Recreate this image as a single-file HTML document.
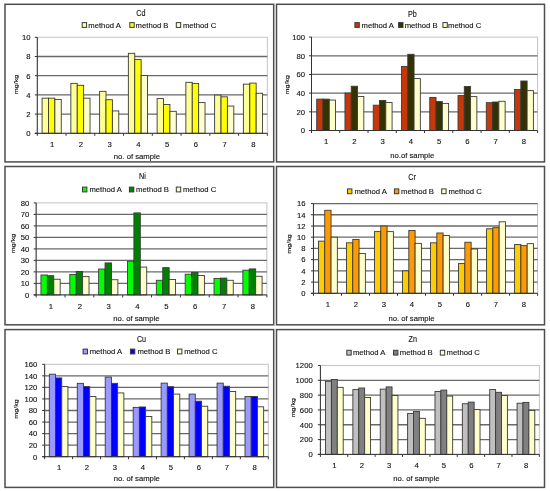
<!DOCTYPE html>
<html><head><meta charset="utf-8"><title>Heavy metals charts</title>
<style>
html,body{margin:0;padding:0;background:#fff;}
svg{display:block;}
text{font-family:"Liberation Sans",Arial,sans-serif;font-size:7.7px;fill:#111;stroke:#111;stroke-width:0.12px;}
</style></head><body>
<svg width="550" height="491" viewBox="0 0 550 491">
<rect x="0" y="0" width="550" height="491" fill="#fff"/>
<rect x="5" y="4.3" width="268.7" height="157.6" fill="#fff" stroke="#4e4e4e" stroke-width="1.5"/>
<rect x="276.5" y="4.3" width="268" height="157.6" fill="#fff" stroke="#4e4e4e" stroke-width="1.5"/>
<rect x="5" y="166.5" width="268.7" height="158.3" fill="#fff" stroke="#4e4e4e" stroke-width="1.5"/>
<rect x="276.5" y="166.5" width="268" height="158.3" fill="#fff" stroke="#4e4e4e" stroke-width="1.5"/>
<rect x="5" y="329.6" width="268.7" height="157.8" fill="#fff" stroke="#4e4e4e" stroke-width="1.5"/>
<rect x="276.5" y="329.6" width="268" height="157.8" fill="#fff" stroke="#4e4e4e" stroke-width="1.5"/>
<g>
<rect x="37.3" y="37.3" width="230.05" height="96" fill="none" stroke="#c4c4c4" stroke-width="1"/>
<line x1="37.3" y1="114.1" x2="267.35" y2="114.1" stroke="#686868" stroke-width="1.3"/>
<line x1="37.3" y1="94.9" x2="267.35" y2="94.9" stroke="#686868" stroke-width="1.3"/>
<line x1="37.3" y1="75.7" x2="267.35" y2="75.7" stroke="#686868" stroke-width="1.3"/>
<line x1="37.3" y1="56.5" x2="267.35" y2="56.5" stroke="#686868" stroke-width="1.3"/>
<rect x="42.09" y="98.16" width="6.39" height="35.14" fill="#FFFF99" stroke="#3a3a3a" stroke-width="0.9"/>
<rect x="48.48" y="98.16" width="6.39" height="35.14" fill="#FFFF00" stroke="#3a3a3a" stroke-width="0.9"/>
<rect x="54.87" y="99.51" width="6.39" height="33.79" fill="#FFFFCC" stroke="#3a3a3a" stroke-width="0.9"/>
<rect x="70.85" y="83.38" width="6.39" height="49.92" fill="#FFFF99" stroke="#3a3a3a" stroke-width="0.9"/>
<rect x="77.24" y="85.3" width="6.39" height="48" fill="#FFFF00" stroke="#3a3a3a" stroke-width="0.9"/>
<rect x="83.63" y="98.16" width="6.39" height="35.14" fill="#FFFFCC" stroke="#3a3a3a" stroke-width="0.9"/>
<rect x="99.61" y="91.35" width="6.39" height="41.95" fill="#FFFF99" stroke="#3a3a3a" stroke-width="0.9"/>
<rect x="106" y="99.7" width="6.39" height="33.6" fill="#FFFF00" stroke="#3a3a3a" stroke-width="0.9"/>
<rect x="112.39" y="110.93" width="6.39" height="22.37" fill="#FFFFCC" stroke="#3a3a3a" stroke-width="0.9"/>
<rect x="128.36" y="53.33" width="6.39" height="79.97" fill="#FFFF99" stroke="#3a3a3a" stroke-width="0.9"/>
<rect x="134.75" y="59.57" width="6.39" height="73.73" fill="#FFFF00" stroke="#3a3a3a" stroke-width="0.9"/>
<rect x="141.14" y="75.51" width="6.39" height="57.79" fill="#FFFFCC" stroke="#3a3a3a" stroke-width="0.9"/>
<rect x="157.12" y="98.55" width="6.39" height="34.75" fill="#FFFF99" stroke="#3a3a3a" stroke-width="0.9"/>
<rect x="163.51" y="104.5" width="6.39" height="28.8" fill="#FFFF00" stroke="#3a3a3a" stroke-width="0.9"/>
<rect x="169.9" y="111.32" width="6.39" height="21.98" fill="#FFFFCC" stroke="#3a3a3a" stroke-width="0.9"/>
<rect x="185.87" y="82.32" width="6.39" height="50.98" fill="#FFFF99" stroke="#3a3a3a" stroke-width="0.9"/>
<rect x="192.26" y="83.38" width="6.39" height="49.92" fill="#FFFF00" stroke="#3a3a3a" stroke-width="0.9"/>
<rect x="198.65" y="102.58" width="6.39" height="30.72" fill="#FFFFCC" stroke="#3a3a3a" stroke-width="0.9"/>
<rect x="214.63" y="95.09" width="6.39" height="38.21" fill="#FFFF99" stroke="#3a3a3a" stroke-width="0.9"/>
<rect x="221.02" y="96.82" width="6.39" height="36.48" fill="#FFFF00" stroke="#3a3a3a" stroke-width="0.9"/>
<rect x="227.41" y="106.04" width="6.39" height="27.26" fill="#FFFFCC" stroke="#3a3a3a" stroke-width="0.9"/>
<rect x="243.39" y="84.15" width="6.39" height="49.15" fill="#FFFF99" stroke="#3a3a3a" stroke-width="0.9"/>
<rect x="249.78" y="83.09" width="6.39" height="50.21" fill="#FFFF00" stroke="#3a3a3a" stroke-width="0.9"/>
<rect x="256.17" y="93.27" width="6.39" height="40.03" fill="#FFFFCC" stroke="#3a3a3a" stroke-width="0.9"/>
<line x1="37.3" y1="37.3" x2="37.3" y2="133.8" stroke="#333" stroke-width="1"/>
<line x1="34.8" y1="133.3" x2="267.35" y2="133.3" stroke="#333" stroke-width="1"/>
<line x1="34.8" y1="133.3" x2="37.3" y2="133.3" stroke="#333" stroke-width="1"/>
<text x="30.5" y="133.6" text-anchor="end" dominant-baseline="central">0</text>
<line x1="34.8" y1="114.1" x2="37.3" y2="114.1" stroke="#333" stroke-width="1"/>
<text x="30.5" y="114.4" text-anchor="end" dominant-baseline="central">2</text>
<line x1="34.8" y1="94.9" x2="37.3" y2="94.9" stroke="#333" stroke-width="1"/>
<text x="30.5" y="95.2" text-anchor="end" dominant-baseline="central">4</text>
<line x1="34.8" y1="75.7" x2="37.3" y2="75.7" stroke="#333" stroke-width="1"/>
<text x="30.5" y="76" text-anchor="end" dominant-baseline="central">6</text>
<line x1="34.8" y1="56.5" x2="37.3" y2="56.5" stroke="#333" stroke-width="1"/>
<text x="30.5" y="56.8" text-anchor="end" dominant-baseline="central">8</text>
<line x1="34.8" y1="37.3" x2="37.3" y2="37.3" stroke="#333" stroke-width="1"/>
<text x="30.5" y="37.6" text-anchor="end" dominant-baseline="central">10</text>
<line x1="37.3" y1="133.3" x2="37.3" y2="135.8" stroke="#333" stroke-width="1"/>
<line x1="66.06" y1="133.3" x2="66.06" y2="135.8" stroke="#333" stroke-width="1"/>
<line x1="94.81" y1="133.3" x2="94.81" y2="135.8" stroke="#333" stroke-width="1"/>
<line x1="123.57" y1="133.3" x2="123.57" y2="135.8" stroke="#333" stroke-width="1"/>
<line x1="152.32" y1="133.3" x2="152.32" y2="135.8" stroke="#333" stroke-width="1"/>
<line x1="181.08" y1="133.3" x2="181.08" y2="135.8" stroke="#333" stroke-width="1"/>
<line x1="209.84" y1="133.3" x2="209.84" y2="135.8" stroke="#333" stroke-width="1"/>
<line x1="238.59" y1="133.3" x2="238.59" y2="135.8" stroke="#333" stroke-width="1"/>
<line x1="267.35" y1="133.3" x2="267.35" y2="135.8" stroke="#333" stroke-width="1"/>
<text x="52.08" y="144" text-anchor="middle" dominant-baseline="central">1</text>
<text x="80.83" y="144" text-anchor="middle" dominant-baseline="central">2</text>
<text x="109.59" y="144" text-anchor="middle" dominant-baseline="central">3</text>
<text x="138.35" y="144" text-anchor="middle" dominant-baseline="central">4</text>
<text x="167.1" y="144" text-anchor="middle" dominant-baseline="central">5</text>
<text x="195.86" y="144" text-anchor="middle" dominant-baseline="central">6</text>
<text x="224.62" y="144" text-anchor="middle" dominant-baseline="central">7</text>
<text x="253.37" y="144" text-anchor="middle" dominant-baseline="central">8</text>
<text x="0" y="0" text-anchor="middle" dominant-baseline="central" style="font-size:8.2px" transform="translate(140.8 13.45) scale(0.88 1)">Cd</text>
<rect x="82.2" y="22.6" width="4.4" height="4.8" fill="#FFFF99" stroke="#3a3a3a" stroke-width="1"/>
<text x="88.3" y="25" dominant-baseline="central">method A</text>
<rect x="129.8" y="22.6" width="4.4" height="4.8" fill="#FFFF00" stroke="#3a3a3a" stroke-width="1"/>
<text x="135.6" y="25" dominant-baseline="central">method B</text>
<rect x="176.3" y="22.6" width="4.4" height="4.8" fill="#FFFFCC" stroke="#3a3a3a" stroke-width="1"/>
<text x="182.9" y="25" dominant-baseline="central">method C</text>
<text x="136.9" y="156.4" text-anchor="middle" dominant-baseline="central">no. of sample</text>
<text x="0" y="0" text-anchor="middle" dominant-baseline="central" style="font-size:7.1px;fill:#111;stroke-width:0.15px" transform="translate(15.7 84.5) rotate(-90) scale(1 0.85)">mg/kg</text>
</g>
<g>
<rect x="311.5" y="37.1" width="226.1" height="93.4" fill="none" stroke="#c4c4c4" stroke-width="1"/>
<line x1="311.5" y1="111.82" x2="537.6" y2="111.82" stroke="#686868" stroke-width="1.3"/>
<line x1="311.5" y1="93.14" x2="537.6" y2="93.14" stroke="#686868" stroke-width="1.3"/>
<line x1="311.5" y1="74.46" x2="537.6" y2="74.46" stroke="#686868" stroke-width="1.3"/>
<line x1="311.5" y1="55.78" x2="537.6" y2="55.78" stroke="#686868" stroke-width="1.3"/>
<rect x="316.71" y="99.12" width="6.28" height="31.38" fill="#C6380A" stroke="#3a3a3a" stroke-width="0.9"/>
<rect x="322.99" y="99.12" width="6.28" height="31.38" fill="#333300" stroke="#3a3a3a" stroke-width="0.9"/>
<rect x="329.27" y="100.05" width="6.28" height="30.45" fill="#FFFFCC" stroke="#3a3a3a" stroke-width="0.9"/>
<rect x="344.97" y="93.05" width="6.28" height="37.45" fill="#C6380A" stroke="#3a3a3a" stroke-width="0.9"/>
<rect x="351.25" y="86.23" width="6.28" height="44.27" fill="#333300" stroke="#3a3a3a" stroke-width="0.9"/>
<rect x="357.53" y="96.5" width="6.28" height="34" fill="#FFFFCC" stroke="#3a3a3a" stroke-width="0.9"/>
<rect x="373.24" y="105.19" width="6.28" height="25.31" fill="#C6380A" stroke="#3a3a3a" stroke-width="0.9"/>
<rect x="379.52" y="100.43" width="6.28" height="30.07" fill="#333300" stroke="#3a3a3a" stroke-width="0.9"/>
<rect x="385.8" y="102.48" width="6.28" height="28.02" fill="#FFFFCC" stroke="#3a3a3a" stroke-width="0.9"/>
<rect x="401.5" y="66.43" width="6.28" height="64.07" fill="#C6380A" stroke="#3a3a3a" stroke-width="0.9"/>
<rect x="407.78" y="54.29" width="6.28" height="76.21" fill="#333300" stroke="#3a3a3a" stroke-width="0.9"/>
<rect x="414.06" y="78.57" width="6.28" height="51.93" fill="#FFFFCC" stroke="#3a3a3a" stroke-width="0.9"/>
<rect x="429.76" y="97.44" width="6.28" height="33.06" fill="#C6380A" stroke="#3a3a3a" stroke-width="0.9"/>
<rect x="436.04" y="101.55" width="6.28" height="28.95" fill="#333300" stroke="#3a3a3a" stroke-width="0.9"/>
<rect x="442.32" y="103.41" width="6.28" height="27.09" fill="#FFFFCC" stroke="#3a3a3a" stroke-width="0.9"/>
<rect x="458.02" y="95.57" width="6.28" height="34.93" fill="#C6380A" stroke="#3a3a3a" stroke-width="0.9"/>
<rect x="464.3" y="86.51" width="6.28" height="43.99" fill="#333300" stroke="#3a3a3a" stroke-width="0.9"/>
<rect x="470.58" y="96.6" width="6.28" height="33.9" fill="#FFFFCC" stroke="#3a3a3a" stroke-width="0.9"/>
<rect x="486.29" y="102.67" width="6.28" height="27.83" fill="#C6380A" stroke="#3a3a3a" stroke-width="0.9"/>
<rect x="492.57" y="102.01" width="6.28" height="28.49" fill="#333300" stroke="#3a3a3a" stroke-width="0.9"/>
<rect x="498.85" y="101.27" width="6.28" height="29.23" fill="#FFFFCC" stroke="#3a3a3a" stroke-width="0.9"/>
<rect x="514.55" y="89.5" width="6.28" height="41" fill="#C6380A" stroke="#3a3a3a" stroke-width="0.9"/>
<rect x="520.83" y="81" width="6.28" height="49.5" fill="#333300" stroke="#3a3a3a" stroke-width="0.9"/>
<rect x="527.11" y="90.62" width="6.28" height="39.88" fill="#FFFFCC" stroke="#3a3a3a" stroke-width="0.9"/>
<line x1="311.5" y1="37.1" x2="311.5" y2="131" stroke="#333" stroke-width="1"/>
<line x1="309" y1="130.5" x2="537.6" y2="130.5" stroke="#333" stroke-width="1"/>
<line x1="309" y1="130.5" x2="311.5" y2="130.5" stroke="#333" stroke-width="1"/>
<text x="305" y="130.8" text-anchor="end" dominant-baseline="central">0</text>
<line x1="309" y1="111.82" x2="311.5" y2="111.82" stroke="#333" stroke-width="1"/>
<text x="305" y="112.12" text-anchor="end" dominant-baseline="central">20</text>
<line x1="309" y1="93.14" x2="311.5" y2="93.14" stroke="#333" stroke-width="1"/>
<text x="305" y="93.44" text-anchor="end" dominant-baseline="central">40</text>
<line x1="309" y1="74.46" x2="311.5" y2="74.46" stroke="#333" stroke-width="1"/>
<text x="305" y="74.76" text-anchor="end" dominant-baseline="central">60</text>
<line x1="309" y1="55.78" x2="311.5" y2="55.78" stroke="#333" stroke-width="1"/>
<text x="305" y="56.08" text-anchor="end" dominant-baseline="central">80</text>
<line x1="309" y1="37.1" x2="311.5" y2="37.1" stroke="#333" stroke-width="1"/>
<text x="305" y="37.4" text-anchor="end" dominant-baseline="central">100</text>
<line x1="311.5" y1="130.5" x2="311.5" y2="133" stroke="#333" stroke-width="1"/>
<line x1="339.76" y1="130.5" x2="339.76" y2="133" stroke="#333" stroke-width="1"/>
<line x1="368.02" y1="130.5" x2="368.02" y2="133" stroke="#333" stroke-width="1"/>
<line x1="396.29" y1="130.5" x2="396.29" y2="133" stroke="#333" stroke-width="1"/>
<line x1="424.55" y1="130.5" x2="424.55" y2="133" stroke="#333" stroke-width="1"/>
<line x1="452.81" y1="130.5" x2="452.81" y2="133" stroke="#333" stroke-width="1"/>
<line x1="481.08" y1="130.5" x2="481.08" y2="133" stroke="#333" stroke-width="1"/>
<line x1="509.34" y1="130.5" x2="509.34" y2="133" stroke="#333" stroke-width="1"/>
<line x1="537.6" y1="130.5" x2="537.6" y2="133" stroke="#333" stroke-width="1"/>
<text x="326.03" y="141.4" text-anchor="middle" dominant-baseline="central">1</text>
<text x="354.29" y="141.4" text-anchor="middle" dominant-baseline="central">2</text>
<text x="382.56" y="141.4" text-anchor="middle" dominant-baseline="central">3</text>
<text x="410.82" y="141.4" text-anchor="middle" dominant-baseline="central">4</text>
<text x="439.08" y="141.4" text-anchor="middle" dominant-baseline="central">5</text>
<text x="467.34" y="141.4" text-anchor="middle" dominant-baseline="central">6</text>
<text x="495.61" y="141.4" text-anchor="middle" dominant-baseline="central">7</text>
<text x="523.87" y="141.4" text-anchor="middle" dominant-baseline="central">8</text>
<text x="0" y="0" text-anchor="middle" dominant-baseline="central" style="font-size:8.2px" transform="translate(412.4 14.45) scale(0.88 1)">Pb</text>
<rect x="354.9" y="22.6" width="4.4" height="4.8" fill="#C6380A" stroke="#3a3a3a" stroke-width="1"/>
<text x="361.5" y="25" dominant-baseline="central">method A</text>
<rect x="398.6" y="22.6" width="4.4" height="4.8" fill="#333300" stroke="#3a3a3a" stroke-width="1"/>
<text x="404.7" y="25" dominant-baseline="central">method B</text>
<rect x="442.9" y="22.6" width="4.4" height="4.8" fill="#FFFFCC" stroke="#3a3a3a" stroke-width="1"/>
<text x="448" y="25" dominant-baseline="central">method C</text>
<text x="412.3" y="155.9" text-anchor="middle" dominant-baseline="central">no.of sample</text>
<text x="0" y="0" text-anchor="middle" dominant-baseline="central" style="font-size:7.1px;fill:#111;stroke-width:0.15px" transform="translate(286.6 84.8) rotate(-90) scale(1 0.85)">mg/kg</text>
</g>
<g>
<rect x="36.15" y="202.9" width="230.75" height="92" fill="none" stroke="#c4c4c4" stroke-width="1"/>
<line x1="36.15" y1="283.4" x2="266.9" y2="283.4" stroke="#686868" stroke-width="1.3"/>
<line x1="36.15" y1="271.9" x2="266.9" y2="271.9" stroke="#686868" stroke-width="1.3"/>
<line x1="36.15" y1="260.4" x2="266.9" y2="260.4" stroke="#686868" stroke-width="1.3"/>
<line x1="36.15" y1="248.9" x2="266.9" y2="248.9" stroke="#686868" stroke-width="1.3"/>
<line x1="36.15" y1="237.4" x2="266.9" y2="237.4" stroke="#686868" stroke-width="1.3"/>
<line x1="36.15" y1="225.9" x2="266.9" y2="225.9" stroke="#686868" stroke-width="1.3"/>
<line x1="36.15" y1="214.4" x2="266.9" y2="214.4" stroke="#686868" stroke-width="1.3"/>
<rect x="40.96" y="275" width="6.41" height="19.89" fill="#00FF00" stroke="#3a3a3a" stroke-width="0.9"/>
<rect x="47.37" y="275.69" width="6.41" height="19.2" fill="#008000" stroke="#3a3a3a" stroke-width="0.9"/>
<rect x="53.78" y="279.26" width="6.41" height="15.64" fill="#FFFFCC" stroke="#3a3a3a" stroke-width="0.9"/>
<rect x="69.8" y="274.54" width="6.41" height="20.35" fill="#00FF00" stroke="#3a3a3a" stroke-width="0.9"/>
<rect x="76.21" y="271.44" width="6.41" height="23.46" fill="#008000" stroke="#3a3a3a" stroke-width="0.9"/>
<rect x="82.62" y="276.62" width="6.41" height="18.28" fill="#FFFFCC" stroke="#3a3a3a" stroke-width="0.9"/>
<rect x="98.64" y="269.02" width="6.41" height="25.87" fill="#00FF00" stroke="#3a3a3a" stroke-width="0.9"/>
<rect x="105.05" y="262.93" width="6.41" height="31.97" fill="#008000" stroke="#3a3a3a" stroke-width="0.9"/>
<rect x="111.46" y="279.72" width="6.41" height="15.18" fill="#FFFFCC" stroke="#3a3a3a" stroke-width="0.9"/>
<rect x="127.49" y="261.2" width="6.41" height="33.69" fill="#00FF00" stroke="#3a3a3a" stroke-width="0.9"/>
<rect x="133.9" y="212.91" width="6.41" height="81.99" fill="#008000" stroke="#3a3a3a" stroke-width="0.9"/>
<rect x="140.31" y="267.07" width="6.41" height="27.83" fill="#FFFFCC" stroke="#3a3a3a" stroke-width="0.9"/>
<rect x="156.33" y="280.29" width="6.41" height="14.6" fill="#00FF00" stroke="#3a3a3a" stroke-width="0.9"/>
<rect x="162.74" y="267.64" width="6.41" height="27.25" fill="#008000" stroke="#3a3a3a" stroke-width="0.9"/>
<rect x="169.15" y="279.49" width="6.41" height="15.41" fill="#FFFFCC" stroke="#3a3a3a" stroke-width="0.9"/>
<rect x="185.18" y="274.2" width="6.41" height="20.7" fill="#00FF00" stroke="#3a3a3a" stroke-width="0.9"/>
<rect x="191.59" y="272.36" width="6.41" height="22.54" fill="#008000" stroke="#3a3a3a" stroke-width="0.9"/>
<rect x="198" y="275.46" width="6.41" height="19.43" fill="#FFFFCC" stroke="#3a3a3a" stroke-width="0.9"/>
<rect x="214.02" y="278.45" width="6.41" height="16.44" fill="#00FF00" stroke="#3a3a3a" stroke-width="0.9"/>
<rect x="220.43" y="278.11" width="6.41" height="16.79" fill="#008000" stroke="#3a3a3a" stroke-width="0.9"/>
<rect x="226.84" y="280.29" width="6.41" height="14.6" fill="#FFFFCC" stroke="#3a3a3a" stroke-width="0.9"/>
<rect x="242.86" y="270.17" width="6.41" height="24.72" fill="#00FF00" stroke="#3a3a3a" stroke-width="0.9"/>
<rect x="249.27" y="268.91" width="6.41" height="25.99" fill="#008000" stroke="#3a3a3a" stroke-width="0.9"/>
<rect x="255.68" y="276.27" width="6.41" height="18.63" fill="#FFFFCC" stroke="#3a3a3a" stroke-width="0.9"/>
<line x1="36.15" y1="202.9" x2="36.15" y2="295.4" stroke="#333" stroke-width="1"/>
<line x1="33.65" y1="294.9" x2="266.9" y2="294.9" stroke="#333" stroke-width="1"/>
<line x1="33.65" y1="294.9" x2="36.15" y2="294.9" stroke="#333" stroke-width="1"/>
<text x="29.2" y="295.2" text-anchor="end" dominant-baseline="central">0</text>
<line x1="33.65" y1="283.4" x2="36.15" y2="283.4" stroke="#333" stroke-width="1"/>
<text x="29.2" y="283.7" text-anchor="end" dominant-baseline="central">10</text>
<line x1="33.65" y1="271.9" x2="36.15" y2="271.9" stroke="#333" stroke-width="1"/>
<text x="29.2" y="272.2" text-anchor="end" dominant-baseline="central">20</text>
<line x1="33.65" y1="260.4" x2="36.15" y2="260.4" stroke="#333" stroke-width="1"/>
<text x="29.2" y="260.7" text-anchor="end" dominant-baseline="central">30</text>
<line x1="33.65" y1="248.9" x2="36.15" y2="248.9" stroke="#333" stroke-width="1"/>
<text x="29.2" y="249.2" text-anchor="end" dominant-baseline="central">40</text>
<line x1="33.65" y1="237.4" x2="36.15" y2="237.4" stroke="#333" stroke-width="1"/>
<text x="29.2" y="237.7" text-anchor="end" dominant-baseline="central">50</text>
<line x1="33.65" y1="225.9" x2="36.15" y2="225.9" stroke="#333" stroke-width="1"/>
<text x="29.2" y="226.2" text-anchor="end" dominant-baseline="central">60</text>
<line x1="33.65" y1="214.4" x2="36.15" y2="214.4" stroke="#333" stroke-width="1"/>
<text x="29.2" y="214.7" text-anchor="end" dominant-baseline="central">70</text>
<line x1="33.65" y1="202.9" x2="36.15" y2="202.9" stroke="#333" stroke-width="1"/>
<text x="29.2" y="203.2" text-anchor="end" dominant-baseline="central">80</text>
<line x1="36.15" y1="294.9" x2="36.15" y2="297.4" stroke="#333" stroke-width="1"/>
<line x1="64.99" y1="294.9" x2="64.99" y2="297.4" stroke="#333" stroke-width="1"/>
<line x1="93.84" y1="294.9" x2="93.84" y2="297.4" stroke="#333" stroke-width="1"/>
<line x1="122.68" y1="294.9" x2="122.68" y2="297.4" stroke="#333" stroke-width="1"/>
<line x1="151.52" y1="294.9" x2="151.52" y2="297.4" stroke="#333" stroke-width="1"/>
<line x1="180.37" y1="294.9" x2="180.37" y2="297.4" stroke="#333" stroke-width="1"/>
<line x1="209.21" y1="294.9" x2="209.21" y2="297.4" stroke="#333" stroke-width="1"/>
<line x1="238.06" y1="294.9" x2="238.06" y2="297.4" stroke="#333" stroke-width="1"/>
<line x1="266.9" y1="294.9" x2="266.9" y2="297.4" stroke="#333" stroke-width="1"/>
<text x="50.97" y="306" text-anchor="middle" dominant-baseline="central">1</text>
<text x="79.82" y="306" text-anchor="middle" dominant-baseline="central">2</text>
<text x="108.66" y="306" text-anchor="middle" dominant-baseline="central">3</text>
<text x="137.5" y="306" text-anchor="middle" dominant-baseline="central">4</text>
<text x="166.35" y="306" text-anchor="middle" dominant-baseline="central">5</text>
<text x="195.19" y="306" text-anchor="middle" dominant-baseline="central">6</text>
<text x="224.03" y="306" text-anchor="middle" dominant-baseline="central">7</text>
<text x="252.88" y="306" text-anchor="middle" dominant-baseline="central">8</text>
<text x="0" y="0" text-anchor="middle" dominant-baseline="central" style="font-size:8.2px" transform="translate(142.5 176.7) scale(0.88 1)">Ni</text>
<rect x="82.5" y="187.1" width="4.4" height="4.8" fill="#00FF00" stroke="#3a3a3a" stroke-width="1"/>
<text x="89.4" y="189.5" dominant-baseline="central">method A</text>
<rect x="129.4" y="187.1" width="4.4" height="4.8" fill="#008000" stroke="#3a3a3a" stroke-width="1"/>
<text x="136.1" y="189.5" dominant-baseline="central">method B</text>
<rect x="176.3" y="187.1" width="4.4" height="4.8" fill="#FFFFCC" stroke="#3a3a3a" stroke-width="1"/>
<text x="182.9" y="189.5" dominant-baseline="central">method C</text>
<text x="136.4" y="318.2" text-anchor="middle" dominant-baseline="central">no. of sample</text>
<text x="0" y="0" text-anchor="middle" dominant-baseline="central" style="font-size:7.1px;fill:#111;stroke-width:0.15px" transform="translate(12.8 243.5) rotate(-90) scale(1 0.85)">mg/kg</text>
</g>
<g>
<rect x="313.45" y="203.55" width="224.15" height="89.75" fill="none" stroke="#c4c4c4" stroke-width="1"/>
<line x1="313.45" y1="282.08" x2="537.6" y2="282.08" stroke="#686868" stroke-width="1.3"/>
<line x1="313.45" y1="270.86" x2="537.6" y2="270.86" stroke="#686868" stroke-width="1.3"/>
<line x1="313.45" y1="259.64" x2="537.6" y2="259.64" stroke="#686868" stroke-width="1.3"/>
<line x1="313.45" y1="248.43" x2="537.6" y2="248.43" stroke="#686868" stroke-width="1.3"/>
<line x1="313.45" y1="237.21" x2="537.6" y2="237.21" stroke="#686868" stroke-width="1.3"/>
<line x1="313.45" y1="225.99" x2="537.6" y2="225.99" stroke="#686868" stroke-width="1.3"/>
<line x1="313.45" y1="214.77" x2="537.6" y2="214.77" stroke="#686868" stroke-width="1.3"/>
<line x1="313.45" y1="203.55" x2="537.6" y2="203.55" stroke="#686868" stroke-width="1.3"/>
<rect x="318.45" y="241.13" width="6.3" height="52.17" fill="#FFCC00" stroke="#3a3a3a" stroke-width="0.9"/>
<rect x="324.75" y="210.28" width="6.3" height="83.02" fill="#FF9900" stroke="#3a3a3a" stroke-width="0.9"/>
<rect x="331.05" y="237.21" width="6.3" height="56.09" fill="#FFFFCC" stroke="#3a3a3a" stroke-width="0.9"/>
<rect x="346.47" y="242.82" width="6.3" height="50.48" fill="#FFCC00" stroke="#3a3a3a" stroke-width="0.9"/>
<rect x="352.77" y="239.45" width="6.3" height="53.85" fill="#FF9900" stroke="#3a3a3a" stroke-width="0.9"/>
<rect x="359.07" y="253.47" width="6.3" height="39.83" fill="#FFFFCC" stroke="#3a3a3a" stroke-width="0.9"/>
<rect x="374.49" y="231.6" width="6.3" height="61.7" fill="#FFCC00" stroke="#3a3a3a" stroke-width="0.9"/>
<rect x="380.79" y="225.99" width="6.3" height="67.31" fill="#FF9900" stroke="#3a3a3a" stroke-width="0.9"/>
<rect x="387.09" y="231.6" width="6.3" height="61.7" fill="#FFFFCC" stroke="#3a3a3a" stroke-width="0.9"/>
<rect x="402.51" y="270.86" width="6.3" height="22.44" fill="#FFCC00" stroke="#3a3a3a" stroke-width="0.9"/>
<rect x="408.81" y="230.48" width="6.3" height="62.82" fill="#FF9900" stroke="#3a3a3a" stroke-width="0.9"/>
<rect x="415.11" y="243.38" width="6.3" height="49.92" fill="#FFFFCC" stroke="#3a3a3a" stroke-width="0.9"/>
<rect x="430.52" y="242.82" width="6.3" height="50.48" fill="#FFCC00" stroke="#3a3a3a" stroke-width="0.9"/>
<rect x="436.82" y="233" width="6.3" height="60.3" fill="#FF9900" stroke="#3a3a3a" stroke-width="0.9"/>
<rect x="443.12" y="235.52" width="6.3" height="57.78" fill="#FFFFCC" stroke="#3a3a3a" stroke-width="0.9"/>
<rect x="458.54" y="263.57" width="6.3" height="29.73" fill="#FFCC00" stroke="#3a3a3a" stroke-width="0.9"/>
<rect x="464.84" y="242.25" width="6.3" height="51.05" fill="#FF9900" stroke="#3a3a3a" stroke-width="0.9"/>
<rect x="471.14" y="248.99" width="6.3" height="44.31" fill="#FFFFCC" stroke="#3a3a3a" stroke-width="0.9"/>
<rect x="486.56" y="228.79" width="6.3" height="64.51" fill="#FFCC00" stroke="#3a3a3a" stroke-width="0.9"/>
<rect x="492.86" y="227.67" width="6.3" height="65.63" fill="#FF9900" stroke="#3a3a3a" stroke-width="0.9"/>
<rect x="499.16" y="221.78" width="6.3" height="71.52" fill="#FFFFCC" stroke="#3a3a3a" stroke-width="0.9"/>
<rect x="514.58" y="244.5" width="6.3" height="48.8" fill="#FFCC00" stroke="#3a3a3a" stroke-width="0.9"/>
<rect x="520.88" y="245.62" width="6.3" height="47.68" fill="#FF9900" stroke="#3a3a3a" stroke-width="0.9"/>
<rect x="527.18" y="243.66" width="6.3" height="49.64" fill="#FFFFCC" stroke="#3a3a3a" stroke-width="0.9"/>
<line x1="313.45" y1="203.55" x2="313.45" y2="293.8" stroke="#333" stroke-width="1"/>
<line x1="310.95" y1="293.3" x2="537.6" y2="293.3" stroke="#333" stroke-width="1"/>
<line x1="310.95" y1="293.3" x2="313.45" y2="293.3" stroke="#333" stroke-width="1"/>
<text x="305.6" y="293.6" text-anchor="end" dominant-baseline="central">0</text>
<line x1="310.95" y1="282.08" x2="313.45" y2="282.08" stroke="#333" stroke-width="1"/>
<text x="305.6" y="282.38" text-anchor="end" dominant-baseline="central">2</text>
<line x1="310.95" y1="270.86" x2="313.45" y2="270.86" stroke="#333" stroke-width="1"/>
<text x="305.6" y="271.16" text-anchor="end" dominant-baseline="central">4</text>
<line x1="310.95" y1="259.64" x2="313.45" y2="259.64" stroke="#333" stroke-width="1"/>
<text x="305.6" y="259.94" text-anchor="end" dominant-baseline="central">6</text>
<line x1="310.95" y1="248.43" x2="313.45" y2="248.43" stroke="#333" stroke-width="1"/>
<text x="305.6" y="248.73" text-anchor="end" dominant-baseline="central">8</text>
<line x1="310.95" y1="237.21" x2="313.45" y2="237.21" stroke="#333" stroke-width="1"/>
<text x="305.6" y="237.51" text-anchor="end" dominant-baseline="central">10</text>
<line x1="310.95" y1="225.99" x2="313.45" y2="225.99" stroke="#333" stroke-width="1"/>
<text x="305.6" y="226.29" text-anchor="end" dominant-baseline="central">12</text>
<line x1="310.95" y1="214.77" x2="313.45" y2="214.77" stroke="#333" stroke-width="1"/>
<text x="305.6" y="215.07" text-anchor="end" dominant-baseline="central">14</text>
<line x1="310.95" y1="203.55" x2="313.45" y2="203.55" stroke="#333" stroke-width="1"/>
<text x="305.6" y="203.85" text-anchor="end" dominant-baseline="central">16</text>
<line x1="313.45" y1="293.3" x2="313.45" y2="295.8" stroke="#333" stroke-width="1"/>
<line x1="341.47" y1="293.3" x2="341.47" y2="295.8" stroke="#333" stroke-width="1"/>
<line x1="369.49" y1="293.3" x2="369.49" y2="295.8" stroke="#333" stroke-width="1"/>
<line x1="397.51" y1="293.3" x2="397.51" y2="295.8" stroke="#333" stroke-width="1"/>
<line x1="425.52" y1="293.3" x2="425.52" y2="295.8" stroke="#333" stroke-width="1"/>
<line x1="453.54" y1="293.3" x2="453.54" y2="295.8" stroke="#333" stroke-width="1"/>
<line x1="481.56" y1="293.3" x2="481.56" y2="295.8" stroke="#333" stroke-width="1"/>
<line x1="509.58" y1="293.3" x2="509.58" y2="295.8" stroke="#333" stroke-width="1"/>
<line x1="537.6" y1="293.3" x2="537.6" y2="295.8" stroke="#333" stroke-width="1"/>
<text x="327.86" y="304" text-anchor="middle" dominant-baseline="central">1</text>
<text x="355.88" y="304" text-anchor="middle" dominant-baseline="central">2</text>
<text x="383.9" y="304" text-anchor="middle" dominant-baseline="central">3</text>
<text x="411.92" y="304" text-anchor="middle" dominant-baseline="central">4</text>
<text x="439.93" y="304" text-anchor="middle" dominant-baseline="central">5</text>
<text x="467.95" y="304" text-anchor="middle" dominant-baseline="central">6</text>
<text x="495.97" y="304" text-anchor="middle" dominant-baseline="central">7</text>
<text x="523.99" y="304" text-anchor="middle" dominant-baseline="central">8</text>
<text x="0" y="0" text-anchor="middle" dominant-baseline="central" style="font-size:8.2px" transform="translate(412.1 177.1) scale(0.88 1)">Cr</text>
<rect x="347.5" y="188.9" width="4.4" height="4.8" fill="#FFCC00" stroke="#3a3a3a" stroke-width="1"/>
<text x="354.4" y="191.3" dominant-baseline="central">method A</text>
<rect x="394.4" y="188.9" width="4.4" height="4.8" fill="#FF9900" stroke="#3a3a3a" stroke-width="1"/>
<text x="401.1" y="191.3" dominant-baseline="central">method B</text>
<rect x="441.7" y="188.9" width="4.4" height="4.8" fill="#FFFFCC" stroke="#3a3a3a" stroke-width="1"/>
<text x="448.4" y="191.3" dominant-baseline="central">method C</text>
<text x="411.5" y="318.2" text-anchor="middle" dominant-baseline="central">no. of sample</text>
<text x="0" y="0" text-anchor="middle" dominant-baseline="central" style="font-size:7.1px;fill:#111;stroke-width:0.15px" transform="translate(289 244) rotate(-90) scale(1 0.85)">mg/kg</text>
</g>
<g>
<rect x="44.65" y="364.3" width="223.65" height="92.4" fill="none" stroke="#c4c4c4" stroke-width="1"/>
<line x1="44.65" y1="445.15" x2="268.3" y2="445.15" stroke="#686868" stroke-width="1.3"/>
<line x1="44.65" y1="433.6" x2="268.3" y2="433.6" stroke="#686868" stroke-width="1.3"/>
<line x1="44.65" y1="422.05" x2="268.3" y2="422.05" stroke="#686868" stroke-width="1.3"/>
<line x1="44.65" y1="410.5" x2="268.3" y2="410.5" stroke="#686868" stroke-width="1.3"/>
<line x1="44.65" y1="398.95" x2="268.3" y2="398.95" stroke="#686868" stroke-width="1.3"/>
<line x1="44.65" y1="387.4" x2="268.3" y2="387.4" stroke="#686868" stroke-width="1.3"/>
<line x1="44.65" y1="375.85" x2="268.3" y2="375.85" stroke="#686868" stroke-width="1.3"/>
<rect x="49.31" y="374.18" width="6.21" height="82.52" fill="#9999FF" stroke="#3a3a3a" stroke-width="0.9"/>
<rect x="55.52" y="377.93" width="6.21" height="78.77" fill="#0000FF" stroke="#3a3a3a" stroke-width="0.9"/>
<rect x="61.73" y="386.59" width="6.21" height="70.11" fill="#FFFFCC" stroke="#3a3a3a" stroke-width="0.9"/>
<rect x="77.27" y="383.36" width="6.21" height="73.34" fill="#9999FF" stroke="#3a3a3a" stroke-width="0.9"/>
<rect x="83.48" y="386.59" width="6.21" height="70.11" fill="#0000FF" stroke="#3a3a3a" stroke-width="0.9"/>
<rect x="89.69" y="396.52" width="6.21" height="60.18" fill="#FFFFCC" stroke="#3a3a3a" stroke-width="0.9"/>
<rect x="105.22" y="377.06" width="6.21" height="79.64" fill="#9999FF" stroke="#3a3a3a" stroke-width="0.9"/>
<rect x="111.43" y="383.36" width="6.21" height="73.34" fill="#0000FF" stroke="#3a3a3a" stroke-width="0.9"/>
<rect x="117.65" y="392.94" width="6.21" height="63.76" fill="#FFFFCC" stroke="#3a3a3a" stroke-width="0.9"/>
<rect x="133.18" y="407.38" width="6.21" height="49.32" fill="#9999FF" stroke="#3a3a3a" stroke-width="0.9"/>
<rect x="139.39" y="406.98" width="6.21" height="49.72" fill="#0000FF" stroke="#3a3a3a" stroke-width="0.9"/>
<rect x="145.6" y="416.45" width="6.21" height="40.25" fill="#FFFFCC" stroke="#3a3a3a" stroke-width="0.9"/>
<rect x="161.13" y="383.13" width="6.21" height="73.57" fill="#9999FF" stroke="#3a3a3a" stroke-width="0.9"/>
<rect x="167.35" y="386.71" width="6.21" height="69.99" fill="#0000FF" stroke="#3a3a3a" stroke-width="0.9"/>
<rect x="173.56" y="394.1" width="6.21" height="62.6" fill="#FFFFCC" stroke="#3a3a3a" stroke-width="0.9"/>
<rect x="189.09" y="394.1" width="6.21" height="62.6" fill="#9999FF" stroke="#3a3a3a" stroke-width="0.9"/>
<rect x="195.3" y="401.2" width="6.21" height="55.5" fill="#0000FF" stroke="#3a3a3a" stroke-width="0.9"/>
<rect x="201.52" y="406.23" width="6.21" height="50.47" fill="#FFFFCC" stroke="#3a3a3a" stroke-width="0.9"/>
<rect x="217.05" y="383.13" width="6.21" height="73.57" fill="#9999FF" stroke="#3a3a3a" stroke-width="0.9"/>
<rect x="223.26" y="386.25" width="6.21" height="70.45" fill="#0000FF" stroke="#3a3a3a" stroke-width="0.9"/>
<rect x="229.47" y="391.5" width="6.21" height="65.2" fill="#FFFFCC" stroke="#3a3a3a" stroke-width="0.9"/>
<rect x="245" y="396.52" width="6.21" height="60.18" fill="#9999FF" stroke="#3a3a3a" stroke-width="0.9"/>
<rect x="251.22" y="396.52" width="6.21" height="60.18" fill="#0000FF" stroke="#3a3a3a" stroke-width="0.9"/>
<rect x="257.43" y="406.8" width="6.21" height="49.9" fill="#FFFFCC" stroke="#3a3a3a" stroke-width="0.9"/>
<line x1="44.65" y1="364.3" x2="44.65" y2="457.2" stroke="#333" stroke-width="1"/>
<line x1="42.15" y1="456.7" x2="268.3" y2="456.7" stroke="#333" stroke-width="1"/>
<line x1="42.15" y1="456.7" x2="44.65" y2="456.7" stroke="#333" stroke-width="1"/>
<text x="37.3" y="457" text-anchor="end" dominant-baseline="central">0</text>
<line x1="42.15" y1="445.15" x2="44.65" y2="445.15" stroke="#333" stroke-width="1"/>
<text x="37.3" y="445.45" text-anchor="end" dominant-baseline="central">20</text>
<line x1="42.15" y1="433.6" x2="44.65" y2="433.6" stroke="#333" stroke-width="1"/>
<text x="37.3" y="433.9" text-anchor="end" dominant-baseline="central">40</text>
<line x1="42.15" y1="422.05" x2="44.65" y2="422.05" stroke="#333" stroke-width="1"/>
<text x="37.3" y="422.35" text-anchor="end" dominant-baseline="central">60</text>
<line x1="42.15" y1="410.5" x2="44.65" y2="410.5" stroke="#333" stroke-width="1"/>
<text x="37.3" y="410.8" text-anchor="end" dominant-baseline="central">80</text>
<line x1="42.15" y1="398.95" x2="44.65" y2="398.95" stroke="#333" stroke-width="1"/>
<text x="37.3" y="399.25" text-anchor="end" dominant-baseline="central">100</text>
<line x1="42.15" y1="387.4" x2="44.65" y2="387.4" stroke="#333" stroke-width="1"/>
<text x="37.3" y="387.7" text-anchor="end" dominant-baseline="central">120</text>
<line x1="42.15" y1="375.85" x2="44.65" y2="375.85" stroke="#333" stroke-width="1"/>
<text x="37.3" y="376.15" text-anchor="end" dominant-baseline="central">140</text>
<line x1="42.15" y1="364.3" x2="44.65" y2="364.3" stroke="#333" stroke-width="1"/>
<text x="37.3" y="364.6" text-anchor="end" dominant-baseline="central">160</text>
<line x1="44.65" y1="456.7" x2="44.65" y2="459.2" stroke="#333" stroke-width="1"/>
<line x1="72.61" y1="456.7" x2="72.61" y2="459.2" stroke="#333" stroke-width="1"/>
<line x1="100.56" y1="456.7" x2="100.56" y2="459.2" stroke="#333" stroke-width="1"/>
<line x1="128.52" y1="456.7" x2="128.52" y2="459.2" stroke="#333" stroke-width="1"/>
<line x1="156.47" y1="456.7" x2="156.47" y2="459.2" stroke="#333" stroke-width="1"/>
<line x1="184.43" y1="456.7" x2="184.43" y2="459.2" stroke="#333" stroke-width="1"/>
<line x1="212.39" y1="456.7" x2="212.39" y2="459.2" stroke="#333" stroke-width="1"/>
<line x1="240.34" y1="456.7" x2="240.34" y2="459.2" stroke="#333" stroke-width="1"/>
<line x1="268.3" y1="456.7" x2="268.3" y2="459.2" stroke="#333" stroke-width="1"/>
<text x="59.03" y="467.3" text-anchor="middle" dominant-baseline="central">1</text>
<text x="86.98" y="467.3" text-anchor="middle" dominant-baseline="central">2</text>
<text x="114.94" y="467.3" text-anchor="middle" dominant-baseline="central">3</text>
<text x="142.9" y="467.3" text-anchor="middle" dominant-baseline="central">4</text>
<text x="170.85" y="467.3" text-anchor="middle" dominant-baseline="central">5</text>
<text x="198.81" y="467.3" text-anchor="middle" dominant-baseline="central">6</text>
<text x="226.77" y="467.3" text-anchor="middle" dominant-baseline="central">7</text>
<text x="254.72" y="467.3" text-anchor="middle" dominant-baseline="central">8</text>
<text x="0" y="0" text-anchor="middle" dominant-baseline="central" style="font-size:8.2px" transform="translate(141.5 339) scale(0.88 1)">Cu</text>
<rect x="83.1" y="349.1" width="4.4" height="4.8" fill="#9999FF" stroke="#3a3a3a" stroke-width="1"/>
<text x="89.7" y="351.5" dominant-baseline="central">method A</text>
<rect x="130.4" y="349.1" width="4.4" height="4.8" fill="#0000FF" stroke="#3a3a3a" stroke-width="1"/>
<text x="137.4" y="351.5" dominant-baseline="central">method B</text>
<rect x="177.5" y="349.1" width="4.4" height="4.8" fill="#FFFFCC" stroke="#3a3a3a" stroke-width="1"/>
<text x="184.2" y="351.5" dominant-baseline="central">method C</text>
<text x="136.8" y="478.5" text-anchor="middle" dominant-baseline="central">no. of sample</text>
<text x="0" y="0" text-anchor="middle" dominant-baseline="central" style="font-size:7.1px;fill:#111;stroke-width:0.15px" transform="translate(16 409) rotate(-90) scale(1 0.85)">mg/kg</text>
</g>
<g>
<rect x="320.4" y="365.5" width="218.95" height="88.9" fill="none" stroke="#c4c4c4" stroke-width="1"/>
<line x1="320.4" y1="439.58" x2="539.35" y2="439.58" stroke="#686868" stroke-width="1.3"/>
<line x1="320.4" y1="424.77" x2="539.35" y2="424.77" stroke="#686868" stroke-width="1.3"/>
<line x1="320.4" y1="409.95" x2="539.35" y2="409.95" stroke="#686868" stroke-width="1.3"/>
<line x1="320.4" y1="395.13" x2="539.35" y2="395.13" stroke="#686868" stroke-width="1.3"/>
<line x1="320.4" y1="380.32" x2="539.35" y2="380.32" stroke="#686868" stroke-width="1.3"/>
<rect x="325.5" y="381.28" width="5.9" height="73.12" fill="#C0C0C0" stroke="#3a3a3a" stroke-width="0.9"/>
<rect x="331.4" y="379.5" width="5.9" height="74.9" fill="#808080" stroke="#3a3a3a" stroke-width="0.9"/>
<rect x="337.3" y="387.35" width="5.9" height="67.05" fill="#FFFFCC" stroke="#3a3a3a" stroke-width="0.9"/>
<rect x="352.87" y="389.58" width="5.9" height="64.82" fill="#C0C0C0" stroke="#3a3a3a" stroke-width="0.9"/>
<rect x="358.77" y="388.02" width="5.9" height="66.38" fill="#808080" stroke="#3a3a3a" stroke-width="0.9"/>
<rect x="364.67" y="397.5" width="5.9" height="56.9" fill="#FFFFCC" stroke="#3a3a3a" stroke-width="0.9"/>
<rect x="380.24" y="389.13" width="5.9" height="65.27" fill="#C0C0C0" stroke="#3a3a3a" stroke-width="0.9"/>
<rect x="386.14" y="386.91" width="5.9" height="67.49" fill="#808080" stroke="#3a3a3a" stroke-width="0.9"/>
<rect x="392.04" y="395.5" width="5.9" height="58.9" fill="#FFFFCC" stroke="#3a3a3a" stroke-width="0.9"/>
<rect x="407.61" y="413.43" width="5.9" height="40.97" fill="#C0C0C0" stroke="#3a3a3a" stroke-width="0.9"/>
<rect x="413.51" y="411.43" width="5.9" height="42.97" fill="#808080" stroke="#3a3a3a" stroke-width="0.9"/>
<rect x="419.41" y="418.32" width="5.9" height="36.08" fill="#FFFFCC" stroke="#3a3a3a" stroke-width="0.9"/>
<rect x="434.98" y="391.5" width="5.9" height="62.9" fill="#C0C0C0" stroke="#3a3a3a" stroke-width="0.9"/>
<rect x="440.88" y="390.1" width="5.9" height="64.3" fill="#808080" stroke="#3a3a3a" stroke-width="0.9"/>
<rect x="446.78" y="396.1" width="5.9" height="58.3" fill="#FFFFCC" stroke="#3a3a3a" stroke-width="0.9"/>
<rect x="462.34" y="403.73" width="5.9" height="50.67" fill="#C0C0C0" stroke="#3a3a3a" stroke-width="0.9"/>
<rect x="468.24" y="402.1" width="5.9" height="52.3" fill="#808080" stroke="#3a3a3a" stroke-width="0.9"/>
<rect x="474.14" y="409.58" width="5.9" height="44.82" fill="#FFFFCC" stroke="#3a3a3a" stroke-width="0.9"/>
<rect x="489.71" y="389.58" width="5.9" height="64.82" fill="#C0C0C0" stroke="#3a3a3a" stroke-width="0.9"/>
<rect x="495.61" y="392.32" width="5.9" height="62.08" fill="#808080" stroke="#3a3a3a" stroke-width="0.9"/>
<rect x="501.51" y="395.58" width="5.9" height="58.82" fill="#FFFFCC" stroke="#3a3a3a" stroke-width="0.9"/>
<rect x="517.08" y="403.21" width="5.9" height="51.19" fill="#C0C0C0" stroke="#3a3a3a" stroke-width="0.9"/>
<rect x="522.98" y="402.39" width="5.9" height="52.01" fill="#808080" stroke="#3a3a3a" stroke-width="0.9"/>
<rect x="528.88" y="410.39" width="5.9" height="44.01" fill="#FFFFCC" stroke="#3a3a3a" stroke-width="0.9"/>
<line x1="320.4" y1="365.5" x2="320.4" y2="454.9" stroke="#333" stroke-width="1"/>
<line x1="317.9" y1="454.4" x2="539.35" y2="454.4" stroke="#333" stroke-width="1"/>
<line x1="317.9" y1="454.4" x2="320.4" y2="454.4" stroke="#333" stroke-width="1"/>
<text x="312.7" y="454.7" text-anchor="end" dominant-baseline="central">0</text>
<line x1="317.9" y1="439.58" x2="320.4" y2="439.58" stroke="#333" stroke-width="1"/>
<text x="312.7" y="439.88" text-anchor="end" dominant-baseline="central">200</text>
<line x1="317.9" y1="424.77" x2="320.4" y2="424.77" stroke="#333" stroke-width="1"/>
<text x="312.7" y="425.07" text-anchor="end" dominant-baseline="central">400</text>
<line x1="317.9" y1="409.95" x2="320.4" y2="409.95" stroke="#333" stroke-width="1"/>
<text x="312.7" y="410.25" text-anchor="end" dominant-baseline="central">600</text>
<line x1="317.9" y1="395.13" x2="320.4" y2="395.13" stroke="#333" stroke-width="1"/>
<text x="312.7" y="395.43" text-anchor="end" dominant-baseline="central">800</text>
<line x1="317.9" y1="380.32" x2="320.4" y2="380.32" stroke="#333" stroke-width="1"/>
<text x="312.7" y="380.62" text-anchor="end" dominant-baseline="central">1000</text>
<line x1="317.9" y1="365.5" x2="320.4" y2="365.5" stroke="#333" stroke-width="1"/>
<text x="312.7" y="365.8" text-anchor="end" dominant-baseline="central">1200</text>
<line x1="320.4" y1="454.4" x2="320.4" y2="456.9" stroke="#333" stroke-width="1"/>
<line x1="347.77" y1="454.4" x2="347.77" y2="456.9" stroke="#333" stroke-width="1"/>
<line x1="375.14" y1="454.4" x2="375.14" y2="456.9" stroke="#333" stroke-width="1"/>
<line x1="402.51" y1="454.4" x2="402.51" y2="456.9" stroke="#333" stroke-width="1"/>
<line x1="429.88" y1="454.4" x2="429.88" y2="456.9" stroke="#333" stroke-width="1"/>
<line x1="457.24" y1="454.4" x2="457.24" y2="456.9" stroke="#333" stroke-width="1"/>
<line x1="484.61" y1="454.4" x2="484.61" y2="456.9" stroke="#333" stroke-width="1"/>
<line x1="511.98" y1="454.4" x2="511.98" y2="456.9" stroke="#333" stroke-width="1"/>
<line x1="539.35" y1="454.4" x2="539.35" y2="456.9" stroke="#333" stroke-width="1"/>
<text x="334.48" y="465" text-anchor="middle" dominant-baseline="central">1</text>
<text x="361.85" y="465" text-anchor="middle" dominant-baseline="central">2</text>
<text x="389.22" y="465" text-anchor="middle" dominant-baseline="central">3</text>
<text x="416.59" y="465" text-anchor="middle" dominant-baseline="central">4</text>
<text x="443.96" y="465" text-anchor="middle" dominant-baseline="central">5</text>
<text x="471.33" y="465" text-anchor="middle" dominant-baseline="central">6</text>
<text x="498.7" y="465" text-anchor="middle" dominant-baseline="central">7</text>
<text x="526.07" y="465" text-anchor="middle" dominant-baseline="central">8</text>
<text x="0" y="0" text-anchor="middle" dominant-baseline="central" style="font-size:8.2px" transform="translate(412.8 339.8) scale(0.88 1)">Zn</text>
<rect x="346.8" y="350.3" width="4.4" height="4.8" fill="#C0C0C0" stroke="#3a3a3a" stroke-width="1"/>
<text x="352.9" y="352.7" dominant-baseline="central">method A</text>
<rect x="393.5" y="350.3" width="4.4" height="4.8" fill="#808080" stroke="#3a3a3a" stroke-width="1"/>
<text x="399.8" y="352.7" dominant-baseline="central">method B</text>
<rect x="440.3" y="350.3" width="4.4" height="4.8" fill="#FFFFCC" stroke="#3a3a3a" stroke-width="1"/>
<text x="446.6" y="352.7" dominant-baseline="central">method C</text>
<text x="416.4" y="478.7" text-anchor="middle" dominant-baseline="central">no. of sample</text>
<text x="0" y="0" text-anchor="middle" dominant-baseline="central" style="font-size:7.1px;fill:#111;stroke-width:0.15px" transform="translate(292.7 407.7) rotate(-90) scale(1 0.85)">mg/kg</text>
</g>
</svg>
</body></html>
